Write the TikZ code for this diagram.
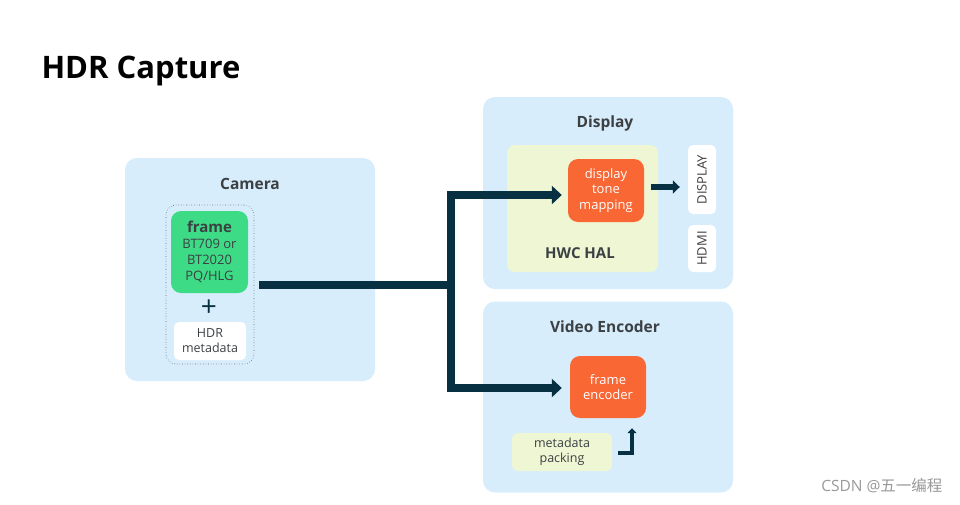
\documentclass[tikz,border=0pt]{standalone}
\usepackage{fontspec}
\setmainfont{Open Sans}
\newfontfamily\cjkfont{Noto Sans CJK SC}
\usetikzlibrary{arrows.meta,positioning,calc}
\definecolor{lblue}{HTML}{D7EDFC}
\definecolor{lyel}{HTML}{EEF6D3}
\definecolor{orng}{HTML}{F86734}
\definecolor{agreen}{HTML}{3DDB85}
\definecolor{dnavy}{HTML}{073042}
\definecolor{tgray}{HTML}{3C4043}
\tikzset{
  panel/.style={fill=lblue, draw=none, rounded corners=12pt, inner sep=0pt},
  hal/.style={fill=lyel, draw=none, rounded corners=8pt, inner sep=0pt},
  orbox/.style={fill=orng, draw=none, rounded corners=10pt, inner sep=0pt, text=white, font=\fontsize{13}{15.5}\selectfont, align=center},
  whitebox/.style={fill=white, draw=none, rounded corners=5pt, inner sep=0pt, text=tgray, font=\fontsize{12.5}{15}\selectfont, align=center},
  paneltitle/.style={text=tgray, font=\fontsize{15.5}{18}\selectfont\bfseries},
  bigconn/.style={draw=dnavy, line width=8pt},
  bigarrow/.style={draw=dnavy, line width=8pt, -{Triangle[length=10pt,width=18pt]}},
  smallarrow/.style={draw=dnavy, line width=5.5pt, -{Triangle[length=7pt,width=13pt]}},
  tinyarrow/.style={draw=dnavy, line width=4pt, -{Triangle[length=5pt,width=9pt]}},
}
\begin{document}
\begin{tikzpicture}[x=1pt,y=1pt]
\useasboundingbox[fill=white] (0,0) rectangle (960,-504);
% title
\node[anchor=west, font=\fontsize{31}{34}\selectfont\bfseries, text=black] (title) at (38,-71) {HDR Capture};
% camera panel
\node[panel, minimum width=250pt, minimum height=223pt] (cam) at (250,-269.5) {};
\node[paneltitle] (camt) at (250,-184) {Camera};
\node[draw=tgray!80, dotted, line width=0.6pt, rounded corners=10pt, minimum width=88pt, minimum height=159pt, inner sep=0pt] (grp) at (210,-284.5) {};
\node[fill=agreen, rounded corners=10pt, minimum width=77pt, minimum height=82pt, inner sep=0pt, align=center, text=tgray, font=\fontsize{13}{16}\selectfont] (frame) at (209.5,-252) {{\fontsize{15}{16}\selectfont\bfseries frame}\\BT709 or\\BT2020\\PQ/HLG};
\node[text=dnavy, font=\fontsize{28}{28}\selectfont] (plus) at (209,-308) {+};
\node[whitebox, minimum width=72pt, minimum height=38pt] (hdrmeta) at (210,-341) {HDR\\metadata};
% display panel
\node[panel, minimum width=250pt, minimum height=192pt] (disp) at (608,-193) {};
\node[paneltitle] (dispt) at (605,-123) {Display};
\node[hal, minimum width=151pt, minimum height=127pt] (hwc) at (582.5,-208.5) {};
\node[text=tgray, font=\fontsize{15}{17}\selectfont\bfseries] (hwct) at (580,-253) {HWC HAL};
\node[orbox, minimum width=76pt, minimum height=63pt] (tonemap) at (606,-190.5) {display\\tone\\mapping};
\node[whitebox, minimum width=28pt, minimum height=69pt] (dispout) at (702,-179.5) {};
\node[rotate=90, text=tgray, font=\fontsize{13}{14}\selectfont] (dispoutt) at (dispout) {DISPLAY};
\node[whitebox, minimum width=28pt, minimum height=47pt] (hdmi) at (702,-248.5) {};
\node[rotate=90, text=tgray, font=\fontsize{13}{14}\selectfont] (hdmit) at (hdmi) {HDMI};
% video encoder panel
\node[panel, minimum width=250pt, minimum height=191pt] (venc) at (608,-397) {};
\node[paneltitle] (venct) at (605,-327) {Video Encoder};
\node[orbox, minimum width=76pt, minimum height=62pt] (fenc) at (608,-387) {frame\\encoder};
\node[hal, rounded corners=6pt, minimum width=100pt, minimum height=38pt, align=center, text=tgray, font=\fontsize{12.5}{15}\selectfont] (mpack) at (562,-452) {metadata\\packing};
% connectors
\coordinate (jx) at (451,0);
\coordinate (j) at (jx |- grp.east);
\draw[bigconn] ([xshift=5pt]grp.east) -- ([xshift=4pt]j);
\draw[bigarrow] (j) -- (451,-195) -- ([xshift=-6pt,yshift=-4.5pt]tonemap.west);
\draw[bigarrow] (j) -- (451,-388) -- ([xshift=-8pt,yshift=-1pt]fenc.west);
\draw[smallarrow] ([xshift=7pt,yshift=3.5pt]tonemap.east) -- ([xshift=-8pt,yshift=-7.5pt]dispout.west);
\draw[tinyarrow] ([xshift=6pt,yshift=-1pt]mpack.east) -| ([xshift=24pt,yshift=-10pt]fenc.south);
% watermark
\node[anchor=east, text=gray!80, font=\fontsize{15.5}{17}\selectfont] (wm) at (946,-486) {CSDN @{\cjkfont 五一编程}};
\end{tikzpicture}
\end{document}
